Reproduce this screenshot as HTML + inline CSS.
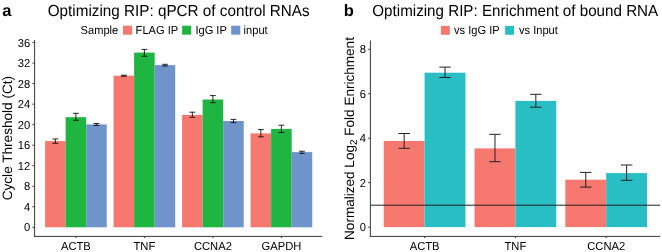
<!DOCTYPE html>
<html><head><meta charset="utf-8"><style>
html,body{margin:0;padding:0;background:#fff;width:662px;height:252px;overflow:hidden}
svg{display:block;will-change:transform;filter:blur(0.3px)}
text{font-family:"Liberation Sans",sans-serif;text-rendering:geometricPrecision}
</style></head><body>
<svg width="662" height="252" viewBox="0 0 662 252">
<rect width="662" height="252" fill="#fff"/>
<line x1="34.6" y1="40" x2="34.6" y2="236.9" stroke="#3a3a3a" stroke-width="1"/>
<line x1="34.1" y1="236.4" x2="322.3" y2="236.4" stroke="#3a3a3a" stroke-width="1"/>
<line x1="32.4" y1="227.30" x2="34.6" y2="227.30" stroke="#3a3a3a" stroke-width="1"/>
<text transform="translate(30.20 231.40) scale(1 1.03)" font-size="11.2" text-anchor="end" fill="#000">0</text>
<line x1="32.4" y1="206.78" x2="34.6" y2="206.78" stroke="#3a3a3a" stroke-width="1"/>
<text transform="translate(30.20 210.88) scale(1 1.03)" font-size="11.2" text-anchor="end" fill="#000">4</text>
<line x1="32.4" y1="186.25" x2="34.6" y2="186.25" stroke="#3a3a3a" stroke-width="1"/>
<text transform="translate(30.20 190.35) scale(1 1.03)" font-size="11.2" text-anchor="end" fill="#000">8</text>
<line x1="32.4" y1="165.73" x2="34.6" y2="165.73" stroke="#3a3a3a" stroke-width="1"/>
<text transform="translate(30.20 169.83) scale(1 1.03)" font-size="11.2" text-anchor="end" fill="#000">12</text>
<line x1="32.4" y1="145.20" x2="34.6" y2="145.20" stroke="#3a3a3a" stroke-width="1"/>
<text transform="translate(30.20 149.30) scale(1 1.03)" font-size="11.2" text-anchor="end" fill="#000">16</text>
<line x1="32.4" y1="124.68" x2="34.6" y2="124.68" stroke="#3a3a3a" stroke-width="1"/>
<text transform="translate(30.20 128.78) scale(1 1.03)" font-size="11.2" text-anchor="end" fill="#000">20</text>
<line x1="32.4" y1="104.16" x2="34.6" y2="104.16" stroke="#3a3a3a" stroke-width="1"/>
<text transform="translate(30.20 108.26) scale(1 1.03)" font-size="11.2" text-anchor="end" fill="#000">24</text>
<line x1="32.4" y1="83.63" x2="34.6" y2="83.63" stroke="#3a3a3a" stroke-width="1"/>
<text transform="translate(30.20 87.73) scale(1 1.03)" font-size="11.2" text-anchor="end" fill="#000">28</text>
<line x1="32.4" y1="63.11" x2="34.6" y2="63.11" stroke="#3a3a3a" stroke-width="1"/>
<text transform="translate(30.20 67.21) scale(1 1.03)" font-size="11.2" text-anchor="end" fill="#000">32</text>
<line x1="32.4" y1="42.58" x2="34.6" y2="42.58" stroke="#3a3a3a" stroke-width="1"/>
<text transform="translate(30.20 46.68) scale(1 1.03)" font-size="11.2" text-anchor="end" fill="#000">36</text>
<line x1="75.90" y1="236.4" x2="75.90" y2="238.1" stroke="#3a3a3a" stroke-width="1"/>
<text transform="translate(75.90 249.60) scale(1 1.04)" font-size="11.2" text-anchor="middle" fill="#000">ACTB</text>
<rect x="45.08" y="141.1" width="20.55" height="86.20" fill="#F6786F"/>
<rect x="65.62" y="117.2" width="20.55" height="110.10" fill="#1FB541"/>
<rect x="86.18" y="124.4" width="20.55" height="102.90" fill="#6F93CB"/>
<line x1="144.40" y1="236.4" x2="144.40" y2="238.1" stroke="#3a3a3a" stroke-width="1"/>
<text transform="translate(144.40 249.60) scale(1 1.04)" font-size="11.2" text-anchor="middle" fill="#000">TNF</text>
<rect x="113.58" y="75.7" width="20.55" height="151.60" fill="#F6786F"/>
<rect x="134.12" y="52.6" width="20.55" height="174.70" fill="#1FB541"/>
<rect x="154.68" y="65.1" width="20.55" height="162.20" fill="#6F93CB"/>
<line x1="212.90" y1="236.4" x2="212.90" y2="238.1" stroke="#3a3a3a" stroke-width="1"/>
<text transform="translate(212.90 249.60) scale(1 1.04)" font-size="11.2" text-anchor="middle" fill="#000">CCNA2</text>
<rect x="182.08" y="114.9" width="20.55" height="112.40" fill="#F6786F"/>
<rect x="202.63" y="99.5" width="20.55" height="127.80" fill="#1FB541"/>
<rect x="223.18" y="121.0" width="20.55" height="106.30" fill="#6F93CB"/>
<line x1="281.40" y1="236.4" x2="281.40" y2="238.1" stroke="#3a3a3a" stroke-width="1"/>
<text transform="translate(281.40 249.60) scale(1 1.04)" font-size="11.2" text-anchor="middle" fill="#000">GAPDH</text>
<rect x="250.57" y="133.4" width="20.55" height="93.90" fill="#F6786F"/>
<rect x="271.12" y="128.9" width="20.55" height="98.40" fill="#1FB541"/>
<rect x="291.68" y="152.1" width="20.55" height="75.20" fill="#6F93CB"/>
<path d="M52.45 139H58.25M55.35 139V143.3M52.45 143.3H58.25" stroke="#111" stroke-width="0.9" fill="none"/>
<path d="M73.00 113.3H78.80M75.90 113.3V120.3M73.00 120.3H78.80" stroke="#111" stroke-width="0.9" fill="none"/>
<path d="M93.55 123.5H99.35M96.45 123.5V125.5M93.55 125.5H99.35" stroke="#111" stroke-width="0.9" fill="none"/>
<path d="M120.95 75.2H126.75M123.85 75.2V76.2M120.95 76.2H126.75" stroke="#111" stroke-width="0.9" fill="none"/>
<path d="M141.50 49.4H147.30M144.40 49.4V56.3M141.50 56.3H147.30" stroke="#111" stroke-width="0.9" fill="none"/>
<path d="M162.05 64.3H167.85M164.95 64.3V66.0M162.05 66.0H167.85" stroke="#111" stroke-width="0.9" fill="none"/>
<path d="M189.45 112.2H195.25M192.35 112.2V117.3M189.45 117.3H195.25" stroke="#111" stroke-width="0.9" fill="none"/>
<path d="M210.00 95.6H215.80M212.90 95.6V102.7M210.00 102.7H215.80" stroke="#111" stroke-width="0.9" fill="none"/>
<path d="M230.55 119.4H236.35M233.45 119.4V122.6M230.55 122.6H236.35" stroke="#111" stroke-width="0.9" fill="none"/>
<path d="M257.95 129.6H263.75M260.85 129.6V136.8M257.95 136.8H263.75" stroke="#111" stroke-width="0.9" fill="none"/>
<path d="M278.50 125.2H284.30M281.40 125.2V132.5M278.50 132.5H284.30" stroke="#111" stroke-width="0.9" fill="none"/>
<path d="M299.05 151.25H304.85M301.95 151.25V153.4M299.05 153.4H304.85" stroke="#111" stroke-width="0.9" fill="none"/>
<text transform="translate(11.5 138.1) rotate(-90)" font-size="13.6" text-anchor="middle" fill="#000">Cycle Threshold (Ct)</text>
<text transform="translate(178.70 16.00) scale(1 1.05)" font-size="15.25" text-anchor="middle" fill="#000">Optimizing RIP: qPCR of control RNAs</text>
<text transform="translate(2.30 16.00)" font-size="16.5" text-anchor="start" fill="#000" font-weight="bold">a</text>
<text transform="translate(80.60 34.20) scale(1 1.05)" font-size="11.1" text-anchor="start" fill="#000">Sample</text>
<rect x="123" y="25.7" width="9.1" height="9" fill="#F6786F"/>
<text transform="translate(135.60 34.20) scale(1 1.05)" font-size="11.1" text-anchor="start" fill="#000">FLAG IP</text>
<rect x="182.1" y="25.7" width="9.1" height="9" fill="#1FB541"/>
<text transform="translate(195.40 34.20) scale(1 1.05)" font-size="11.1" text-anchor="start" fill="#000">IgG IP</text>
<rect x="231.2" y="25.7" width="9.1" height="9" fill="#6F93CB"/>
<text transform="translate(243.60 34.20) scale(1 1.05)" font-size="11.1" text-anchor="start" fill="#000">input</text>
<line x1="370.4" y1="40.4" x2="370.4" y2="236.9" stroke="#3a3a3a" stroke-width="1"/>
<line x1="369.9" y1="236.4" x2="660.2" y2="236.4" stroke="#3a3a3a" stroke-width="1"/>
<line x1="368.2" y1="227.10" x2="370.4" y2="227.10" stroke="#3a3a3a" stroke-width="1"/>
<text transform="translate(366.00 231.20) scale(1 1.03)" font-size="11.2" text-anchor="end" fill="#000">0</text>
<line x1="368.2" y1="182.65" x2="370.4" y2="182.65" stroke="#3a3a3a" stroke-width="1"/>
<text transform="translate(366.00 186.75) scale(1 1.03)" font-size="11.2" text-anchor="end" fill="#000">2</text>
<line x1="368.2" y1="138.20" x2="370.4" y2="138.20" stroke="#3a3a3a" stroke-width="1"/>
<text transform="translate(366.00 142.30) scale(1 1.03)" font-size="11.2" text-anchor="end" fill="#000">4</text>
<line x1="368.2" y1="93.75" x2="370.4" y2="93.75" stroke="#3a3a3a" stroke-width="1"/>
<text transform="translate(366.00 97.85) scale(1 1.03)" font-size="11.2" text-anchor="end" fill="#000">6</text>
<line x1="368.2" y1="49.30" x2="370.4" y2="49.30" stroke="#3a3a3a" stroke-width="1"/>
<text transform="translate(366.00 53.40) scale(1 1.03)" font-size="11.2" text-anchor="end" fill="#000">8</text>
<line x1="424.60" y1="236.4" x2="424.60" y2="238.1" stroke="#3a3a3a" stroke-width="1"/>
<text transform="translate(424.60 249.60) scale(1 1.04)" font-size="11.2" text-anchor="middle" fill="#000">ACTB</text>
<rect x="383.74" y="141" width="40.86" height="86.10" fill="#F6786F"/>
<rect x="424.60" y="72.7" width="40.86" height="154.40" fill="#29BDC4"/>
<line x1="515.40" y1="236.4" x2="515.40" y2="238.1" stroke="#3a3a3a" stroke-width="1"/>
<text transform="translate(515.40 249.60) scale(1 1.04)" font-size="11.2" text-anchor="middle" fill="#000">TNF</text>
<rect x="474.54" y="148.4" width="40.86" height="78.70" fill="#F6786F"/>
<rect x="515.40" y="100.9" width="40.86" height="126.20" fill="#29BDC4"/>
<line x1="606.20" y1="236.4" x2="606.20" y2="238.1" stroke="#3a3a3a" stroke-width="1"/>
<text transform="translate(606.20 249.60) scale(1 1.04)" font-size="11.2" text-anchor="middle" fill="#000">CCNA2</text>
<rect x="565.34" y="179.7" width="40.86" height="47.40" fill="#F6786F"/>
<rect x="606.20" y="173.1" width="40.86" height="54.00" fill="#29BDC4"/>
<path d="M398.47 133.5H409.87M404.17 133.5V148.3M398.47 148.3H409.87" stroke="#222" stroke-width="1" fill="none"/>
<path d="M439.33 67.1H450.73M445.03 67.1V77.5M439.33 77.5H450.73" stroke="#222" stroke-width="1" fill="none"/>
<path d="M489.27 134.3H500.67M494.97 134.3V161.7M489.27 161.7H500.67" stroke="#222" stroke-width="1" fill="none"/>
<path d="M530.13 94.3H541.53M535.83 94.3V107.2M530.13 107.2H541.53" stroke="#222" stroke-width="1" fill="none"/>
<path d="M580.07 172.4H591.47M585.77 172.4V187.1M580.07 187.1H591.47" stroke="#222" stroke-width="1" fill="none"/>
<path d="M620.93 165H632.33M626.63 165V180.3M620.93 180.3H632.33" stroke="#222" stroke-width="1" fill="none"/>
<line x1="370.4" y1="205.2" x2="660.2" y2="205.2" stroke="#222" stroke-width="1"/>
<text transform="translate(353.5 138.5) rotate(-90)" font-size="13.549999999999999" text-anchor="middle" fill="#000">Normalized Log<tspan font-size="10" dy="3">2</tspan><tspan dy="-3"> Fold Enrichment</tspan></text>
<text transform="translate(372.30 16.00) scale(1 1.05)" font-size="15.18" text-anchor="start" fill="#000">Optimizing RIP: Enrichment of bound RNA</text>
<text transform="translate(343.80 16.00)" font-size="16.5" text-anchor="start" fill="#000" font-weight="bold">b</text>
<rect x="440.9" y="25.9" width="8.9" height="8.9" fill="#F6786F"/>
<text transform="translate(454.00 34.30) scale(1 1.05)" font-size="11.1" text-anchor="start" fill="#000">vs IgG IP</text>
<rect x="505.1" y="25.9" width="8.9" height="8.9" fill="#29BDC4"/>
<text transform="translate(519.00 34.30) scale(1 1.05)" font-size="11.1" text-anchor="start" fill="#000">vs Input</text>
</svg>
</body></html>
